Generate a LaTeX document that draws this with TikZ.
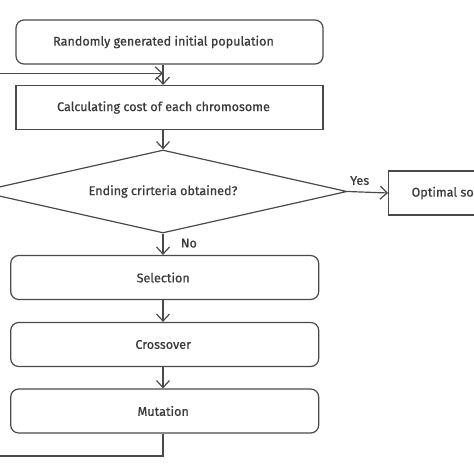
\documentclass[tikz,border=0pt]{standalone}
\usepackage{fontspec}
\setmainfont{Fira Sans}[FakeBold=0.6]
\usetikzlibrary{shapes.geometric,arrows.meta}
\definecolor{ln}{HTML}{4A4A4A}
\definecolor{tx}{HTML}{3A3A3A}
\begin{document}
\begin{tikzpicture}[x=1pt,y=-1pt,
  box/.style={draw=ln,line width=1.2pt,minimum width=307pt,minimum height=44pt,inner sep=0pt},
  rbox/.style={box,rounded corners=8pt},
  lbl/.style={text=tx,font=\fontsize{12.6}{14}\selectfont},
  arr/.style={draw=ln,line width=1.2pt,-{Straight Barb[length=7pt,width=13pt]}},
  ]
\useasboundingbox (0,0) rectangle (474,474);
\clip (0,0) rectangle (474,474);
\fill[white] (0,0) rectangle (474,474);
\coordinate (ax) at (163,0);
\coordinate (fb) at (163,73.3);
\coordinate (lp) at (-20,456);
\node[rbox, label={[lbl,xshift=-6pt]center:Randomly generated initial population}] (b1) at (169.5,42) {};
\node[box, label={[lbl,xshift=-6pt]center:Calculating cost of each chromosome}] (b2) at (169.5,107.5) {};
\node[draw=ln, line width=1.2pt, diamond, aspect=4.43, minimum width=368pt, minimum height=83pt, inner sep=0pt, lbl] (d) at (163,191.5) {Ending crirteria obtained?};
\node[box, minimum width=142pt, anchor=west, lbl] (opt) at (388,193) {Optimal solution};
\node[rbox, minimum width=308pt, label={[lbl,xshift=-1.5pt]center:Selection}] (sel) at (164.7,277.5) {};
\node[rbox, minimum width=308pt, label={[lbl,xshift=-1.5pt]center:Crossover}] (cro) at (164.7,344.5) {};
\node[rbox, minimum width=308pt, label={[lbl,xshift=-1.5pt]center:Mutation}] (mut) at (164.7,411) {};
\draw[arr] (b1.south -| ax) -- (b2.north -| ax);
\draw[arr] (b2.south -| ax) -- (d.north);
\draw[arr] (d.east) -- (opt.west) node[lbl, pos=0.3, above=3pt] {Yes};
\draw[arr] (d.south) -- (sel.north -| ax) node[lbl, pos=0.45, right=14pt] {No};
\draw[arr] (sel.south -| ax) -- (cro.north -| ax);
\draw[arr] (cro.south -| ax) -- (mut.north -| ax);
\draw[arr] (mut.south -| ax) |- (lp) |- (fb);
\end{tikzpicture}
\end{document}
